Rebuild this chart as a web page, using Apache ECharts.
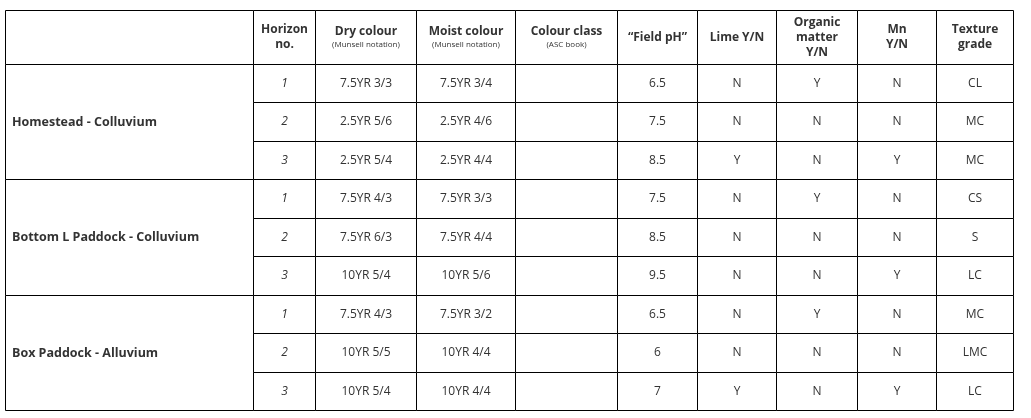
<!DOCTYPE html>
<html><head><meta charset="utf-8">
<script src="https://cdn.jsdelivr.net/npm/echarts@6/dist/echarts.min.js"></script>
<style>html,body{margin:0;padding:0;background:#fff}#c{width:1031px;height:418px}</style>
</head><body><div id="c"></div>
<script>
const headers = ['', 'Horizon\nno.', 'Dry colour|(Munsell notation)', 'Moist colour|(Munsell notation)', 'Colour class|(ASC book)', '“Field pH”', 'Lime Y/N', 'Organic\nmatter\nY/N', 'Mn\nY/N', 'Texture\ngrade'];
const sites = ['Homestead - Colluvium', 'Bottom L Paddock - Colluvium', 'Box Paddock - Alluvium'];
const horizons = ['1','2','3','1','2','3','1','2','3'];
const dryColour = ['7.5YR 3/3','2.5YR 5/6','2.5YR 5/4','7.5YR 4/3','7.5YR 6/3','10YR 5/4','7.5YR 4/3','10YR 5/5','10YR 5/4'];
const moistColour = ['7.5YR 3/4','2.5YR 4/6','2.5YR 4/4','7.5YR 3/3','7.5YR 4/4','10YR 5/6','7.5YR 3/2','10YR 4/4','10YR 4/4'];
const colourClass = ['','','','','','','','',''];
const fieldPH = ['6.5','7.5','8.5','7.5','8.5','9.5','6.5','6','7'];
const lime = ['N','N','Y','N','N','N','N','N','Y'];
const organic = ['Y','N','N','Y','N','N','Y','N','N'];
const mn = ['N','N','Y','N','N','Y','N','N','Y'];
const texture = ['CL','MC','MC','CS','S','LC','MC','LMC','LC'];

// layout (pixel-space grid)
const colEdges = [5,253,315,416,515,617,697,776,857,936,1013];
const headTop = 10, headBottom = 64, tableBottom = 410;
const rowH = (tableBottom - headBottom) / horizons.length;

const cells = [];
headers.forEach((h, c) => {
  let t;
  if (h.includes('|')) { const p = h.split('|'); t = '{b|' + p[0] + '}\n{s|' + p[1] + '}'; }
  else t = h ? h.split('\n').map(s => '{b|' + s + '}').join('\n') : '';
  cells.push([colEdges[c], colEdges[c+1], headTop, headBottom, t, 'h']);
});
sites.forEach((s, i) => {
  cells.push([colEdges[0], colEdges[1], headBottom + rowH*3*i, headBottom + rowH*3*(i+1), '{g|' + s + '}', 'g']);
});
const cols = [horizons, dryColour, moistColour, colourClass, fieldPH, lime, organic, mn, texture];
cols.forEach((arr, ci) => arr.forEach((v, r) => {
  cells.push([colEdges[ci+1], colEdges[ci+2], headBottom + rowH*r, headBottom + rowH*(r+1), v ? (ci === 0 ? '{i|' + v + '}' : '{n|' + v + '}') : '', 'n']);
}));

const F = '"Open Sans", sans-serif';
const rich = {
  b: {fontFamily: F, fontWeight: 'bold', fontSize: 12, lineHeight: 15, color: '#000'},
  s: {fontFamily: F, fontSize: 8, lineHeight: 12, color: '#000'},
  g: {fontFamily: F, fontWeight: 'bold', fontSize: 12.5, color: '#000'},
  n: {fontFamily: F, fontSize: 12, color: '#000'},
  i: {fontFamily: F, fontStyle: 'italic', fontSize: 12, color: '#000'}
};

const chart = echarts.init(document.getElementById('c'));
chart.setOption({
  animation: false,
  grid: {left: 0, right: 0, top: 0, bottom: 0},
  xAxis: {type: 'value', min: 0, max: 1031, show: false},
  yAxis: {type: 'value', min: 0, max: 418, inverse: true, show: false},
  series: [{
    type: 'custom',
    data: cells,
    renderItem: (params, api) => {
      const d = cells[params.dataIndex];
      const p0 = api.coord([d[0], d[2]]), p1 = api.coord([d[1], d[3]]);
      const left = d[5] === 'g';
      return {
        type: 'rect',
        shape: {x: Math.round(p0[0]) + 0.5, y: Math.round(p0[1]) + 0.5, width: Math.round(p1[0]) - Math.round(p0[0]), height: Math.round(p1[1]) - Math.round(p0[1])},
        style: {fill: '#fff', stroke: '#000', lineWidth: 1},
        textContent: {style: {text: d[4], rich: rich, align: left ? 'left' : 'center', verticalAlign: 'middle'}},
        textConfig: {position: left ? 'insideLeft' : 'inside', distance: 7}
      };
    }
  }]
});
</script></body></html>
